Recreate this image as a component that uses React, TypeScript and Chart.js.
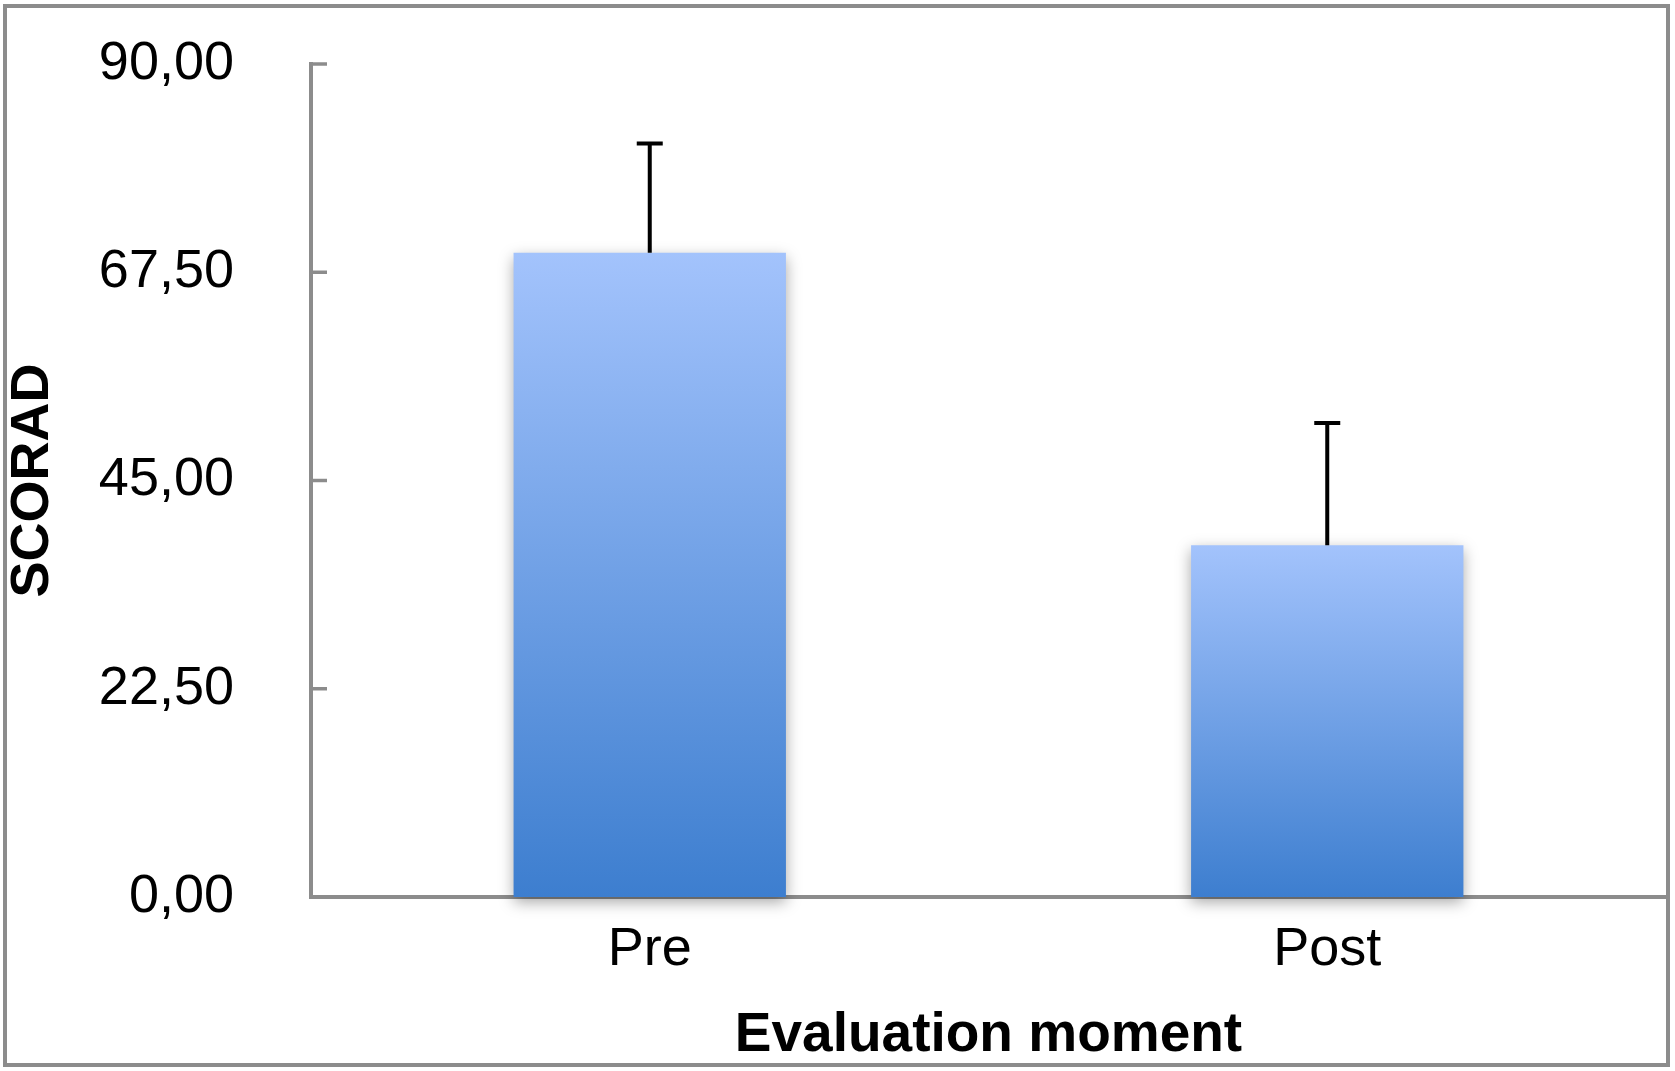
import { useEffect, useRef } from "react"
import { Chart, registerables } from "chart.js"

Chart.register(...registerables)

// valeurs
const categories = ["Pre", "Post"]
const scoradMeans = [69.6, 38.0]
const scoradSD = [11.8, 13.2]
const yTickValues = [0, 22.5, 45, 67.5, 90]

const FONT = "'Liberation Sans', Arial, Helvetica, sans-serif"
const GREY = "#8c8c8c"

export default function App() {
  const chartRef = useRef<HTMLCanvasElement>(null)
  const chartInstance = useRef<Chart | null>(null)

  useEffect(() => {
    if (!chartRef.current) return
    if (chartInstance.current) chartInstance.current.destroy()
    const ctx = chartRef.current.getContext("2d")
    if (!ctx) return

    // cadre gris autour de toute la figure
    const framePlugin = {
      id: "frame",
      beforeDraw(chart: Chart) {
        const c = chart.ctx
        c.save()
        c.strokeStyle = GREY
        c.lineWidth = 4
        c.strokeRect(5, 6, 1663, 1059)
        c.restore()
      },
    }

    // ombre douce sous les barres
    const shadowPlugin = {
      id: "barShadow",
      beforeDatasetsDraw(chart: Chart) {
        const c = chart.ctx
        c.save()
        c.shadowColor = "rgba(0, 0, 0, 0.35)"
        c.shadowBlur = 14
        c.shadowOffsetX = 0
        c.shadowOffsetY = 5
      },
      afterDatasetsDraw(chart: Chart) {
        chart.ctx.restore()
      },
    }

    // barres d'erreur (vers le haut seulement) + petites graduations internes
    const errorBarPlugin = {
      id: "errorBars",
      afterDatasetsDraw(chart: Chart) {
        const c = chart.ctx
        const yScale = chart.scales.y
        const meta = chart.getDatasetMeta(0)
        c.save()
        c.strokeStyle = "#000"
        c.lineWidth = 4
        meta.data.forEach((bar: any, i: number) => {
          const x = bar.x
          const yTop = yScale.getPixelForValue(scoradMeans[i] + scoradSD[i])
          c.beginPath()
          c.moveTo(x, bar.y)
          c.lineTo(x, yTop)
          c.moveTo(x - 13, yTop)
          c.lineTo(x + 13, yTop)
          c.stroke()
        })
        c.restore()
      },
      afterDraw(chart: Chart) {
        const c = chart.ctx
        const yScale = chart.scales.y
        const left = chart.chartArea.left
        c.save()
        c.strokeStyle = GREY
        c.lineWidth = 3.5
        yScale.ticks.forEach((t) => {
          const y = yScale.getPixelForValue(t.value)
          c.beginPath()
          c.moveTo(left, y)
          c.lineTo(left + 16, y)
          c.stroke()
        })
        c.restore()
      },
    }

    chartInstance.current = new Chart(ctx, {
      type: "bar",
      data: {
        labels: categories,
        datasets: [
          {
            label: "SCORAD",
            data: scoradMeans,
            clip: false,
            borderWidth: 0,
            backgroundColor: (context: any) => {
              const chart = context.chart
              if (!chart.chartArea || context.type !== "data") return "#6f9fe6"
              const y = chart.scales.y
              const top = y.getPixelForValue(context.raw)
              const base = y.getPixelForValue(0)
              const g = chart.ctx.createLinearGradient(0, top, 0, base)
              g.addColorStop(0, "#a3c3fc")
              g.addColorStop(1, "#3d7ecf")
              return g
            },
          },
        ],
      },
      options: {
        responsive: true,
        maintainAspectRatio: false,
        animation: false,
        layout: {
          autoPadding: false,
          padding: { top: 64, right: 9, left: 0, bottom: 0 },
        },
        datasets: {
          bar: {
            categoryPercentage: 1,
            barPercentage: 0.402,
          },
        },
        plugins: {
          legend: { display: false },
          tooltip: { enabled: false },
        },
        scales: {
          x: {
            grid: { display: false, drawTicks: false },
            border: { display: true, color: GREY, width: 4 },
            ticks: {
              color: "#000",
              padding: 21,
              font: { family: FONT, size: 54 },
            },
            title: {
              display: true,
              text: "Evaluation moment",
              color: "#000",
              font: { family: FONT, size: 55, weight: "bold" },
              padding: { top: 0, bottom: 2 },
            },
            afterFit: (scale: any) => {
              scale.height = 174
            },
          },
          y: {
            min: 0,
            max: 90,
            grid: { display: false, drawTicks: false },
            border: { display: true, color: GREY, width: 4 },
            afterBuildTicks: (scale: any) => {
              scale.ticks = yTickValues.map((v) => ({ value: v }))
            },
            ticks: {
              color: "#000",
              padding: 77,
              font: { family: FONT, size: 54 },
              callback: (value: any) => Number(value).toFixed(2).replace(".", ","),
            },
            title: {
              display: true,
              text: "SCORAD",
              color: "#000",
              font: { family: FONT, size: 54, weight: "bold" },
              padding: { top: 1, bottom: 0 },
            },
            afterFit: (scale: any) => {
              scale.width = 311
              // le padding des étiquettes ne doit pas pousser la zone du graphique
              scale.paddingTop = 0
              scale.paddingBottom = 0
            },
          },
        },
      },
      plugins: [framePlugin, shadowPlugin, errorBarPlugin],
    })

    return () => {
      if (chartInstance.current) {
        chartInstance.current.destroy()
        chartInstance.current = null
      }
    }
  }, [])

  return (
    <div
      style={{
        position: "absolute",
        left: 0,
        top: 0,
        width: 1675,
        height: 1071,
        background: "#fff",
      }}
    >
      <canvas ref={chartRef}></canvas>
    </div>
  )
}
